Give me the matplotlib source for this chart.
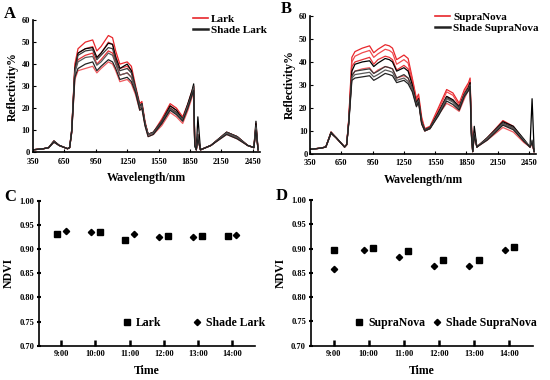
import numpy as np
import matplotlib
matplotlib.use('Agg')
import matplotlib.pyplot as plt
from matplotlib.lines import Line2D

plt.rcParams['font.family'] = ['Liberation Serif', 'DejaVu Serif']
plt.rcParams['font.weight'] = 'bold'

# ---- spectra (wavelength nm, reflectivity %) ----
wl = [350, 450, 500, 550, 600, 680, 700, 720, 750, 780,
      850, 920, 960, 1000, 1070, 1110, 1140, 1180, 1250, 1290,
      1330, 1370, 1390, 1420, 1450, 1500, 1580, 1660, 1720, 1780,
      1830, 1870, 1885, 1895, 1910, 1925, 1950, 2050, 2200, 2300,
      2400, 2460, 2480, 2500]

lark = [
    [1, 1.5, 2, 5, 3, 1.5, 2, 10, 40, 47, 50, 51, 46, 48, 53, 52, 46, 40, 41, 39,
     30, 22, 23, 14, 8, 9, 15, 22, 20, 16, 22, 28, 30, 5, 1, 8, 1, 3, 9, 7, 3, 2, 13, 1],
    [1, 1.5, 2, 5, 3, 1.5, 2, 10, 39, 45, 47, 48, 43, 45, 50, 49, 44, 38, 39, 37,
     29, 21, 22, 13, 8, 9, 14, 21, 19, 15, 21, 27, 29, 4, 1, 7, 1, 3, 9, 7, 3, 2, 12, 1],
    [1, 1.5, 2, 4.5, 3, 1.5, 2, 9, 37, 42, 44, 45, 40, 42, 46, 45, 41, 35, 36, 34,
     28, 20, 21, 13, 8, 8.5, 13, 20, 18, 15, 21, 26, 29, 4, 1, 6, 1, 3, 8.5, 6.5, 3, 2, 11, 1],
    [1, 1.5, 2, 4.5, 3, 1.5, 2, 9, 33, 37, 38, 39, 36, 38, 41, 40, 37, 32, 33, 31,
     26, 19, 20, 12, 7, 8, 12, 18, 16, 13, 19, 25, 28, 4, 1, 6, 1, 3, 8, 6, 3, 2, 10, 1],
]
shade_lark = [
    [1, 1.5, 2, 5, 3, 1.5, 2, 10, 38, 45, 47, 47.5, 43, 45, 49.5, 49, 43, 38, 40, 37,
     29, 21, 22, 13, 8, 9, 14, 21, 19, 15, 22, 28, 31, 3, 1, 16, 1, 3, 9, 7, 3, 2, 14, 1],
    [1, 1.5, 2, 5, 3, 1.5, 2, 10, 37, 44, 46, 46.5, 42, 44, 47.5, 47, 42, 37, 38, 36,
     29, 21, 22, 13, 8, 9, 14, 20, 18, 15, 21, 27, 30, 3, 1, 8, 1, 3, 9, 7, 3, 2, 12, 1],
    [1, 1.5, 2, 4.5, 3, 1.5, 2, 9, 36, 41, 43, 43.5, 39.5, 41, 45, 44, 40, 35, 36, 34,
     28, 20, 21, 13, 8, 8.5, 13, 19.5, 17.5, 14.5, 21, 26, 29, 3, 1, 6, 1, 3, 8.5, 6.5, 3, 2, 11, 1],
    [1, 1.5, 2, 4.5, 3, 1.5, 2, 9, 34, 38, 40, 41, 37, 39, 42, 41, 38, 33, 34, 32,
     27, 19, 20, 12, 7, 8, 13, 19, 17, 14, 20, 26, 28, 3, 1, 6, 1, 3, 8, 6, 3, 2, 10, 1],
]
supra = [
    [2, 2.5, 3, 9.5, 7, 3, 4, 15, 42, 44.5, 46, 47, 44, 45.5, 47.5, 47, 46, 41, 43, 41.5,
     33, 24, 26, 16, 11, 12, 20, 28, 26.5, 22, 28, 31, 33, 16, 1, 10, 3, 7, 14.5, 12, 6, 3, 5, 1],
    [2, 2.5, 3, 9.5, 7, 3, 4, 15, 40, 42.5, 44, 45, 42, 43.5, 45.5, 45, 44, 39, 41, 39.5,
     32, 23, 25, 15, 10.5, 11.5, 19, 27, 25.5, 21, 27, 30, 32, 14, 1, 9, 3, 7, 14, 11.5, 6, 3, 5, 1],
    [2, 2.5, 3, 9, 7, 3, 4, 14, 38, 40, 41, 42, 39, 41, 42.5, 42, 41, 36.5, 38.5, 37,
     31, 22, 24, 14, 10, 11, 18, 25, 23.5, 20, 26, 29, 31, 12, 1, 8, 3, 6.5, 13, 11, 5.5, 3, 5, 1],
    [2, 2.5, 3, 9, 7, 3, 4, 14, 34, 36, 37, 37.5, 35, 36.5, 38, 37.5, 37, 33, 34, 33,
     28, 21, 23, 13, 10, 11, 17, 22, 20.5, 18.5, 24, 28, 30, 10, 1, 8, 3, 6, 11.5, 9.5, 5, 3, 4, 1],
]
shade_supra = [
    [2, 2.5, 3, 9.5, 7, 3, 4, 14, 36, 39, 40, 40.5, 38, 39.5, 41.5, 41, 40, 36, 37.5, 36,
     30, 22, 24, 14, 10.5, 11.5, 18, 25, 23.5, 20.5, 26, 29, 31, 14, 1, 12, 3, 7, 14, 12, 6.5, 3, 24, 1],
    [2, 2.5, 3, 9, 7, 3, 4, 14, 34, 36, 36.5, 37, 35, 36, 38, 37.5, 37, 33, 34.5, 33,
     29, 21.5, 23.5, 14, 10.5, 11.5, 17.5, 24.5, 23, 20, 26, 28.5, 30, 12, 1, 9, 3, 7, 13.5, 11.5, 6, 3, 6, 1],
    [2, 2.5, 3, 9, 7, 3, 4, 13.5, 33, 34.5, 35, 35.5, 33.5, 34.5, 36.5, 36, 35.5, 32, 33, 31.5,
     28, 21, 23, 13.5, 10, 11, 17, 24, 22.5, 19.5, 25.5, 28, 30, 10, 1, 8, 3, 6.5, 13, 11, 6, 3, 5, 1],
    [2, 2.5, 3, 9, 7, 3, 4, 13, 32, 33, 33.5, 34, 32, 33, 35, 34.5, 34, 31, 32, 30.5,
     27, 20.5, 22.5, 13, 10, 11, 16.5, 23, 21.5, 19, 25, 27.5, 29.5, 9, 1, 8, 3, 6, 12.5, 10.5, 5.5, 3, 5, 1],
]

# ---- NDVI ----
times = ['9:00', '10:00', '11:00', '12:00', '13:00', '14:00']
ndvi_lark = [0.931, 0.936, 0.918, 0.926, 0.926, 0.927]
ndvi_shade_lark = [0.938, 0.935, 0.931, 0.924, 0.924, 0.929]
ndvi_supra = [0.896, 0.901, 0.894, 0.877, 0.877, 0.903]
ndvi_shade_supra = [0.858, 0.897, 0.883, 0.864, 0.864, 0.897]

red_cols = ['#e8262b', '#f0494d', '#e33035', '#ef5a5e']
blk_cols = ['#000000', '#3a3a3a', '#5a5a5a', '#222222']


def spectra_panel(ax, sun, shade, lab1, lab2, letter, anchor):
    for i, y in enumerate(sun):
        ax.plot(wl, y, color=red_cols[i], lw=0.9)
    for i, y in enumerate(shade):
        ax.plot(wl, y, color=blk_cols[i], lw=0.9)
    ax.set_xlim(350, 2520)
    ax.set_ylim(0, 60)
    ax.set_xticks(range(350, 2451, 300))
    ax.set_yticks(range(0, 61, 10))
    ax.tick_params(labelsize=6, length=2, width=0.8, direction='in')
    ax.tick_params(axis='x', pad=4)
    ax.tick_params(axis='y', pad=2)
    for s in ['top', 'right']:
        ax.spines[s].set_visible(False)
    for s in ['left', 'bottom']:
        ax.spines[s].set_linewidth(1.2)
    ax.set_xlabel('Wavelength/nm', fontsize=8.5, fontweight='bold', labelpad=5)
    ax.set_ylabel('Reflectivity%', fontsize=8.5, fontweight='bold', labelpad=2)
    h = [Line2D([], [], color='#e8262b', lw=1.2), Line2D([], [], color='#222222', lw=1.8)]
    ax.legend(h, [lab1, lab2], loc='upper right', bbox_to_anchor=anchor, frameon=False,
              fontsize=8, handlelength=1.3, handletextpad=0.3, labelspacing=0.15,
              borderaxespad=0)
    ax.text(-0.13, 1.02, letter, transform=ax.transAxes, fontsize=12, fontweight='bold')


def ndvi_panel(ax, sun, shade, sun_off, shade_off, lab1, lab2, letter, anchor, colsp):
    x = np.arange(len(times))
    ax.plot(x + np.array(sun_off), sun, 's', color='black', ms=4.5, ls='none', label=lab1)
    ax.plot(x + np.array(shade_off), shade, 'D', color='black', ms=3.2, ls='none', label=lab2)
    ax.set_xlim(-0.65, 5.68)
    ax.set_ylim(0.70, 1.00)
    ax.set_xticks(x)
    ax.set_xticklabels(times)
    ax.set_yticks(np.arange(0.70, 1.001, 0.05))
    ax.set_yticklabels(['%.2f' % v for v in np.arange(0.70, 1.001, 0.05)])
    ax.tick_params(axis='x', labelsize=6, length=4, width=1.8, direction='in', pad=3)
    ax.tick_params(axis='y', labelsize=6, length=3, width=1.5, direction='inout', pad=2)
    for s in ['top', 'right']:
        ax.spines[s].set_visible(False)
    for s in ['left', 'bottom']:
        ax.spines[s].set_linewidth(1.2)
    ax.set_xlabel('Time', fontsize=8.5, fontweight='bold', labelpad=5)
    ax.set_ylabel('NDVI', fontsize=8.5, fontweight='bold', labelpad=3)
    ax.legend(loc='lower right', bbox_to_anchor=anchor, ncol=2, frameon=False, fontsize=8.5,
              handlelength=0.8, handletextpad=0.4, columnspacing=colsp, borderaxespad=0)
    ax.text(-0.16, 1.0, letter, transform=ax.transAxes, fontsize=12, fontweight='bold')


fig = plt.figure(figsize=(5.5, 3.8), dpi=100)
axA = fig.add_axes([0.060, 0.600, 0.413, 0.347])
axB = fig.add_axes([0.564, 0.595, 0.411, 0.363])
axC = fig.add_axes([0.071, 0.090, 0.393, 0.382])
axD = fig.add_axes([0.565, 0.090, 0.404, 0.384])

spectra_panel(axA, lark, shade_lark, 'Lark', 'Shade Lark', 'A', (1.05, 1.08))
spectra_panel(axB, supra, shade_supra, 'SupraNova', 'Shade SupraNova', 'B', (1.03, 1.06))

off = 0.13
ndvi_panel(axC, ndvi_lark, ndvi_shade_lark,
           [-off, off, -off, off, off, -off], [off, -off, off, -off, -off, off],
           'Lark', 'Shade Lark', 'C', (1.07, 0.08), 2.6)
ndvi_panel(axD, ndvi_supra, ndvi_shade_supra,
           [0, off, off, off, off, off], [0, -off, -off, -off, -off, -off],
           'SupraNova', 'Shade SupraNova', 'D', (1.04, 0.08), 0.6)

fig.savefig('out.png', dpi=100)
